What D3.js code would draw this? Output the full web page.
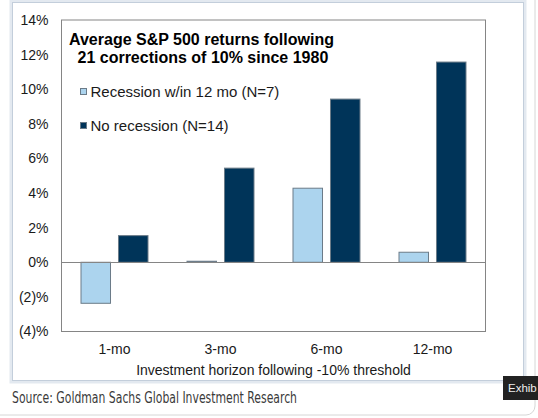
<!DOCTYPE html>
<html>
<head>
<meta charset="utf-8">
<script src="https://cdn.jsdelivr.net/npm/d3@7.9.0/dist/d3.min.js"></script>
<style>
  body { margin: 0; background: #fff; }
  svg { display: block; font-family: "Liberation Sans", Arial, sans-serif; }
</style>
</head>
<body>
<svg id="chart" width="538" height="418"></svg>
<script>
// data (percent returns)
const horizons = ['1-mo', '3-mo', '6-mo', '12-mo'];
const seriesNames = ['Recession w/in 12 mo (N=7)', 'No recession (N=14)'];
const recession = [-2.37, 0.06, 4.28, 0.58];
const noRecession = [1.54, 5.44, 9.43, 11.57];
const yTicks = [-4, -2, 0, 2, 4, 6, 8, 10, 12, 14];
const colors = ['#acd4ee', '#003459'];

const svg = d3.select('#chart');

// outer page container (only bottom-right corner shows)
svg.append('rect')
  .attr('x', -20).attr('y', -20)
  .attr('width', 555).attr('height', 435)
  .attr('rx', 9)
  .attr('fill', '#fff')
  .attr('stroke', '#d6d6d6');

// chart image frame with soft edge
svg.append('rect')
  .attr('x', 11).attr('y', 1)
  .attr('width', 514).attr('height', 381)
  .attr('fill', 'none')
  .attr('stroke', '#e3e9f0').attr('stroke-width', 3);
svg.append('rect')
  .attr('x', 12.5).attr('y', 2.5)
  .attr('width', 511).attr('height', 378)
  .attr('fill', '#fff')
  .attr('stroke', '#c3cedb');

// 1. scales
const plot = { left: 61.5, right: 485.5, top: 20, bottom: 331.5 };

const x0 = d3.scaleBand()
  .domain(horizons)
  .range([plot.left, plot.right])
  .paddingInner(0.368)
  .paddingOuter(0.184);

const x1 = d3.scaleBand()
  .domain([0, 1])
  .range([0, x0.bandwidth()])
  .paddingInner(0.213);

const y = d3.scaleLinear()
  .domain([-4, 14])
  .range([plot.bottom, plot.top]);

// 2. plot box
svg.append('rect')
  .attr('x', plot.left).attr('y', plot.top)
  .attr('width', plot.right - plot.left)
  .attr('height', plot.bottom - plot.top)
  .attr('fill', 'none')
  .attr('stroke', '#858585');

// 3. bars
const rows = horizons.map((h, i) => ({ h, vals: [recession[i], noRecession[i]] }));

svg.append('g')
  .selectAll('g')
  .data(rows)
  .join('g')
  .attr('transform', d => `translate(${x0(d.h)},0)`)
  .selectAll('rect')
  .data(d => d.vals.map((v, s) => ({ v, s })))
  .join('rect')
  .attr('x', d => x1(d.s))
  .attr('width', x1.bandwidth())
  .attr('y', d => y(Math.max(0, d.v)))
  .attr('height', d => Math.max(0.5, Math.abs(y(d.v) - y(0))))
  .attr('fill', d => colors[d.s])
  .attr('stroke', '#6b7b88')
  .attr('stroke-width', 1);

// zero line
svg.append('line')
  .attr('x1', plot.left).attr('x2', plot.right)
  .attr('y1', Math.round(y(0)) + 0.5).attr('y2', Math.round(y(0)) + 0.5)
  .attr('stroke', '#858585');

// 4. y axis labels
const fmt = v => v < 0 ? `(${-v})%` : `${v}%`;
svg.append('g')
  .selectAll('text')
  .data(yTicks)
  .join('text')
  .attr('x', 48.5)
  .attr('y', d => y(d))
  .attr('dy', '0.35em')
  .attr('text-anchor', 'end')
  .attr('font-size', 14)
  .attr('fill', '#1a1a1a')
  .text(fmt);

// 5. x axis labels + title
svg.append('g')
  .selectAll('text')
  .data(horizons)
  .join('text')
  .attr('x', d => x0(d) + x0.bandwidth() / 2)
  .attr('y', 354)
  .attr('text-anchor', 'middle')
  .attr('font-size', 14)
  .attr('fill', '#1a1a1a')
  .text(d => d);

svg.append('text')
  .attr('x', (plot.left + plot.right) / 2)
  .attr('y', 375)
  .attr('text-anchor', 'middle')
  .attr('font-size', 14)
  .attr('fill', '#1a1a1a')
  .text('Investment horizon following -10% threshold');

// 6. chart title
svg.append('text')
  .attr('font-size', 16)
  .attr('font-weight', 'bold')
  .attr('fill', '#000')
  .selectAll('tspan')
  .data(['Average S&P 500 returns following', '21 corrections of 10% since 1980'])
  .join('tspan')
  .attr('x', (d, i) => i ? 77.5 : 69)
  .attr('y', (d, i) => i ? 63 : 45)
  .text(d => d);

// 7. legend
const legend = svg.append('g')
  .selectAll('g')
  .data(seriesNames)
  .join('g')
  .attr('transform', (d, i) => `translate(80.5,${88.5 + i * 34})`);

legend.append('rect')
  .attr('width', 6).attr('height', 6)
  .attr('fill', (d, i) => colors[i])
  .attr('stroke', '#6b7b88');

legend.append('text')
  .attr('x', 10)
  .attr('y', 8.2)
  .attr('font-size', 15)
  .attr('fill', '#1a1a1a')
  .text(d => d);

// 8. source line
svg.append('text')
  .attr('x', 12)
  .attr('y', 403)
  .attr('font-family', '"Liberation Sans Narrow", "DejaVu Sans Condensed", sans-serif')
  .attr('font-size', 15)
  .attr('fill', '#3a3a3a')
  .attr('textLength', 285)
  .attr('lengthAdjust', 'spacingAndGlyphs')
  .text('Source: Goldman Sachs Global Investment Research');

// tooltip stub at right edge (page crop shows only its start)
svg.append('rect')
  .attr('x', 503).attr('y', 376)
  .attr('width', 40).attr('height', 24)
  .attr('fill', '#222');
svg.append('text')
  .attr('x', 508).attr('y', 392)
  .attr('font-family', '"Liberation Sans Narrow", sans-serif')
  .attr('font-size', 11.5)
  .attr('fill', '#eee')
  .text('Exhib');
</script>
</body>
</html>
